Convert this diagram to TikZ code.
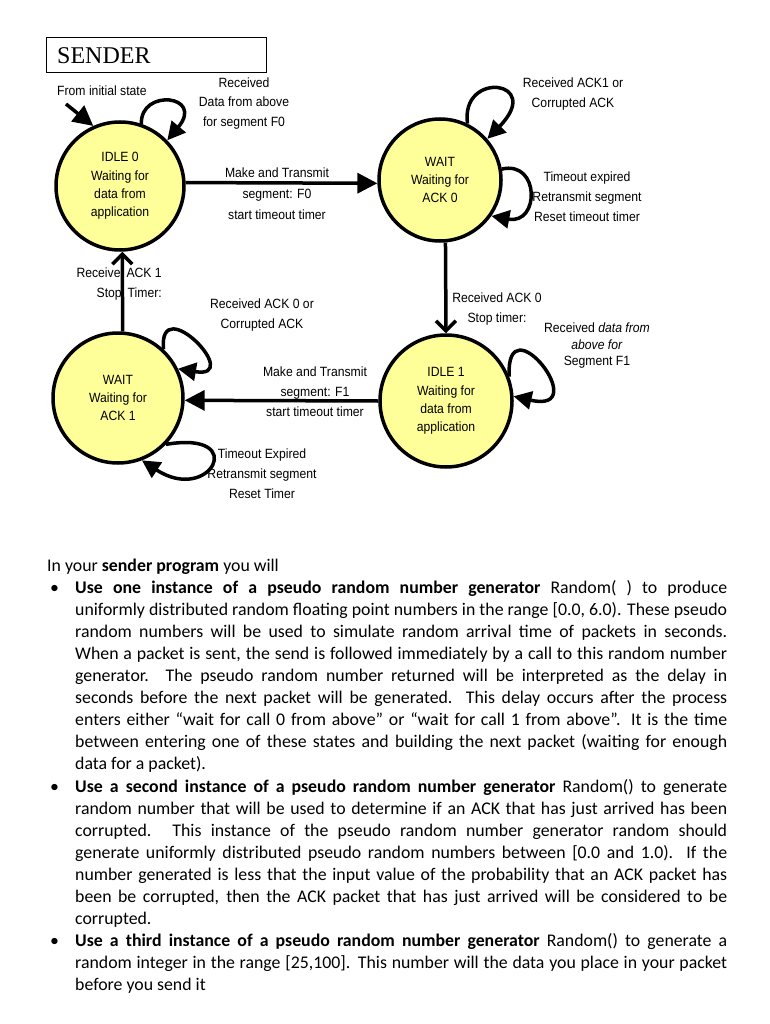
\documentclass[tikz,border=0pt]{standalone}
\usepackage{fontspec}
\setmainfont{Carlito}
\newfontfamily\arialf[FakeStretch=0.91]{Liberation Sans}
\newfontfamily\timesf{Liberation Serif}
\usetikzlibrary{arrows.meta}
\definecolor{stateyellow}{RGB}{255,255,153}
\begin{document}
\begin{tikzpicture}[x=1pt,y=1pt,
  fsmstate/.style={circle, draw, line width=3.5pt, fill=stateyellow, minimum size=#1, inner sep=0pt,
    font=\arialf\fontsize{13.4}{18.3}\selectfont, align=center},
  lbl/.style={font=\arialf\fontsize{13.4}{20}\selectfont, align=center, inner sep=0pt},
  edge/.style={line width=3.5pt},
  tri/.style={edge, -{Triangle[length=18pt,width=18pt]}},
  bigtri/.style={edge, -{Triangle[length=20pt,width=20pt]}},
  barb/.style={edge, -{Straight Barb[length=10pt,width=20pt]}},
  bodytxt/.style={anchor=base west, inner sep=0pt, font=\fontsize{17.8}{22}\selectfont},
]
\useasboundingbox (0,0) rectangle (769,-1024);
\fill[white] (0,0) rectangle (769,-1024);

% title box
\node[draw, line width=0.8pt, minimum width=220pt, minimum height=35pt, anchor=north west, inner sep=0pt] (title) at (46,-37) {};
\node[anchor=west, inner sep=0pt, font=\timesf\fontsize{24}{24}\selectfont] (titletxt) at (57,-56) {SENDER};

% states
\node[fsmstate=128pt] (idle0) at (120,-186) {IDLE 0\\Waiting for\\data from\\application};
\node[fsmstate=122pt] (wait0) at (440,-180) {WAIT\\Waiting for\\ACK 0};
\node[fsmstate=132pt] (idle1) at (446,-401) {IDLE 1\\Waiting for\\data from\\application};
\node[fsmstate=130pt] (wait1) at (118,-398) {WAIT\\Waiting for\\ACK 1};

% initial arrow
\coordinate (init) at (66,-104);
\draw[bigtri] (init) -- (idle0.114);

% transitions
\draw[bigtri] (idle0.3) -- (wait0.183);
\draw[barb] (wait0.-85) -- (idle1.90);
\draw[bigtri] (idle1.180) -- (wait1.-2);
\draw[barb] (wait1.86) -- (idle0.272);

% self loops
\draw[tri] (idle0.71) .. controls (140,-88) and (205,-95) .. (idle0.44);
\draw[tri] (wait0.64) .. controls (460,-70) and (545,-80) .. (wait0.41);
\draw[tri] (wait0.10) .. controls (540,-160) and (540,-225) .. (wait0.-35);
\draw[tri] (idle1.21) .. controls (505,-300) and (595,-415) .. (idle1.4);
\draw[tri] (wait1.47) .. controls (158,-290) and (245,-380) .. (wait1.26);
\draw[tri] (wait1.-44) .. controls (250,-430) and (210,-505) .. (wait1.-69);

% labels
\node[lbl, anchor=west] (lfrom) at (57,-91) {From initial state};
\node[lbl, font=\arialf\fontsize{13.4}{19.5}\selectfont] (lA) at (244,-103.5) {Received\\Data from above\\for segment F0};
\node[lbl, font=\arialf\fontsize{13.4}{21}\selectfont] (lB) at (277,-194) {Make and Transmit\\segment: F0\\start timeout timer};
\node[lbl] (lC) at (573,-94) {Received ACK1 or\\Corrupted ACK};
\node[lbl] (lD) at (587,-197) {Timeout expired\\Retransmit segment\\Reset timeout timer};
\node[lbl, align=right, anchor=east] (lE) at (162,-284.5) {Receive\hspace{6pt}ACK 1\\Stop\hspace{6pt}Timer:};
\node[lbl] (lF) at (262,-315) {Received ACK 0 or\\Corrupted ACK};
\node[lbl] (lG) at (497,-309) {Received ACK 0\\Stop timer:};
\node[lbl, font=\arialf\fontsize{13.4}{16.5}\selectfont] (lH) at (597,-346) {Received \textit{data from}\\\textit{above for}\\Segment F1};
\node[lbl] (lI) at (315,-392) {Make and Transmit\\segment: F1\\start timeout timer};
\node[lbl] (lJ) at (262,-474) {Timeout Expired\\Retransmit segment\\Reset Timer};

% body text
\node[bodytxt] (t0) at (47,-571) {In your \textbf{sender program} you will};
\node[bodytxt] (b1) at (50,-593.1) {•};
\node[bodytxt] (t1) at (75,-593.1) {\makebox[652pt][s]{\textbf{Use one instance of a pseudo random number generator} Random( ) to produce}};
\node[bodytxt] (t2) at (75,-615.2) {\makebox[652pt][s]{uniformly distributed random floating point numbers in the range [0.0, 6.0). These pseudo}};
\node[bodytxt] (t3) at (75,-637.3) {\makebox[652pt][s]{random numbers will be used to simulate random arrival time of packets in seconds.}};
\node[bodytxt] (t4) at (75,-659.4) {\makebox[652pt][s]{When a packet is sent, the send is followed immediately by a call to this random number}};
\node[bodytxt] (t5) at (75,-681.5) {\makebox[652pt][s]{generator.  The pseudo random number returned will be interpreted as the delay in}};
\node[bodytxt] (t6) at (75,-703.6) {\makebox[652pt][s]{seconds before the next packet will be generated.  This delay occurs after the process}};
\node[bodytxt] (t7) at (75,-725.7) {\makebox[652pt][s]{enters either “wait for call 0 from above” or “wait for call 1 from above”.  It is the time}};
\node[bodytxt] (t8) at (75,-747.8) {\makebox[652pt][s]{between entering one of these states and building the next packet (waiting for enough}};
\node[bodytxt] (t9) at (75,-769.9) {data for a packet).};
\node[bodytxt] (b2) at (50,-792.0) {•};
\node[bodytxt] (t10) at (75,-792.0) {\makebox[652pt][s]{\textbf{Use a second instance of a pseudo random number generator} Random() to generate}};
\node[bodytxt] (t11) at (75,-814.1) {\makebox[652pt][s]{random number that will be used to determine if an ACK that has just arrived has been}};
\node[bodytxt] (t12) at (75,-836.2) {\makebox[652pt][s]{corrupted.  This instance of the pseudo random number generator random should}};
\node[bodytxt] (t13) at (75,-858.3) {\makebox[652pt][s]{generate uniformly distributed pseudo random numbers between [0.0 and 1.0).  If the}};
\node[bodytxt] (t14) at (75,-880.4) {\makebox[652pt][s]{number generated is less that the input value of the probability that an ACK packet has}};
\node[bodytxt] (t15) at (75,-902.5) {\makebox[652pt][s]{been be corrupted, then the ACK packet that has just arrived will be considered to be}};
\node[bodytxt] (t16) at (75,-924.6) {corrupted.};
\node[bodytxt] (b3) at (50,-946.7) {•};
\node[bodytxt] (t17) at (75,-946.7) {\makebox[652pt][s]{\textbf{Use a third instance of a pseudo random  number generator} Random() to generate a}};
\node[bodytxt] (t18) at (75,-968.8) {\makebox[652pt][s]{random integer in the range [25,100].  This number will the data you place in your packet}};
\node[bodytxt] (t19) at (75,-990.9) {before you send it};
\end{tikzpicture}
\end{document}
